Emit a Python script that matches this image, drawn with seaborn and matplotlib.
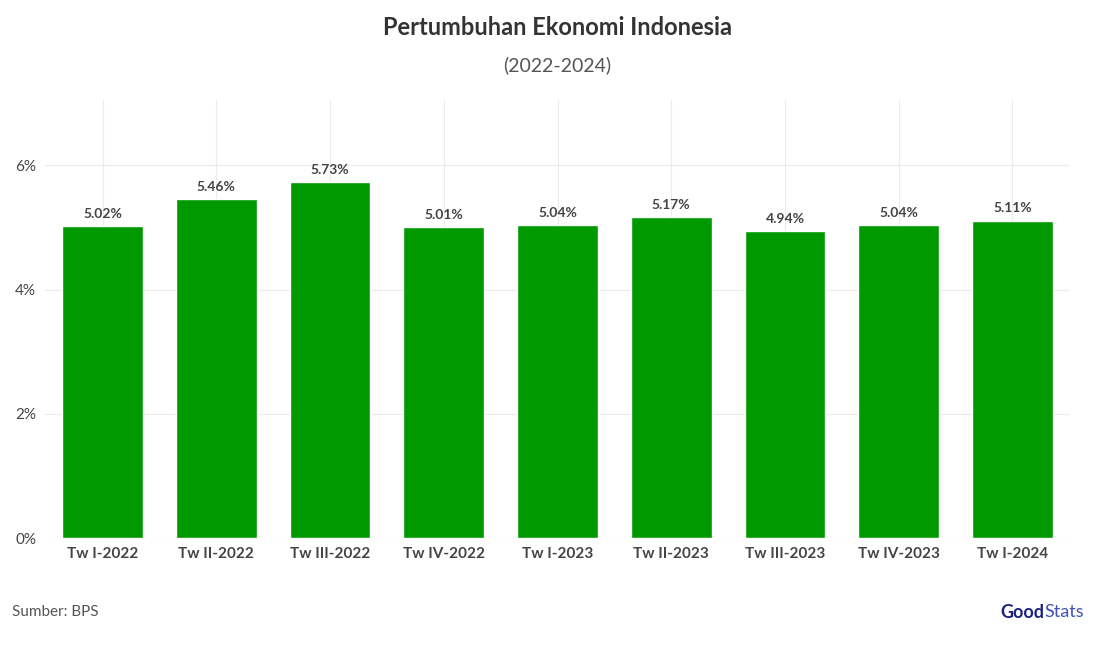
import matplotlib
matplotlib.use("Agg")
import matplotlib.pyplot as plt
import seaborn as sns
import pandas as pd

categories = ["Tw I-2022", "Tw II-2022", "Tw III-2022", "Tw IV-2022", "Tw I-2023",
              "Tw II-2023", "Tw III-2023", "Tw IV-2023", "Tw I-2024"]
values = [5.02, 5.46, 5.73, 5.01, 5.04, 5.17, 4.94, 5.04, 5.11]
yticks = [0, 2, 4, 6]
ytick_labels = ["0%", "2%", "4%", "6%"]

sns.set_theme(style="white")
plt.rcParams['font.family'] = ['Lato', 'DejaVu Sans']

fig = plt.figure(figsize=(11.15, 6.5), dpi=100)
ax = fig.add_axes([0.040, 0.172, 0.920, 0.674])
df = pd.DataFrame({"cat": categories, "val": values})
sns.barplot(data=df, x="cat", y="val", color="#009900", saturation=1, width=0.71, ax=ax, zorder=2)
ax.set_xlim(-0.51, 8.51)
ax.set_ylim(0, 7.05)
ax.set_yticks(yticks)
ax.set_yticklabels(ytick_labels, fontsize=11, color="#444444")
ax.set_xlabel(""); ax.set_ylabel("")
for lbl in ax.get_xticklabels():
    lbl.set_fontweight("bold"); lbl.set_fontsize(11); lbl.set_color("#444444")
ax.grid(True, color="#ebebeb", linewidth=0.8, zorder=0)
ax.set_axisbelow(True)
for s in ax.spines.values():
    s.set_visible(False)
ax.tick_params(length=0, pad=6)
for i, v in enumerate(values):
    ax.text(i, v + 0.1, f"{v:.2f}%", ha="center", va="bottom", fontsize=10,
            fontweight="bold", color="#444444")

fig.text(0.5, 0.957, "Pertumbuhan Ekonomi Indonesia", ha="center", va="center",
         fontsize=17, fontweight="bold", color="#333333")
fig.text(0.5, 0.900, "(2022-2024)", ha="center", va="center", fontsize=14, color="#555555")
fig.text(0.011, 0.058, "Sumber: BPS", ha="left", va="center", fontsize=11, color="#555555")
fig.text(0.937, 0.058, "Good", ha="right", va="center", fontsize=13, fontweight="bold", color="#1a237e")
fig.text(0.937, 0.058, "Stats", ha="left", va="center", fontsize=13, color="#3f51b5")
fig.savefig("out.png", dpi=100)
